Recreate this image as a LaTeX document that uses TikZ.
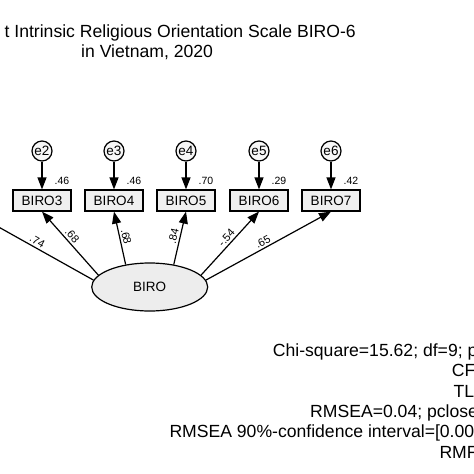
\documentclass[tikz,border=0pt]{standalone}
\usepackage{fontspec}
\setmainfont{Liberation Sans}
\usetikzlibrary{arrows.meta,calc,shapes.geometric}
\begin{document}
\begin{tikzpicture}[x=1pt,y=-1pt,
  ind/.style={draw=black,line width=1.2pt,fill=gray!12,minimum width=58pt,minimum height=21pt,inner sep=0pt,font=\fontsize{13.5}{13.5}\selectfont},
  err/.style={draw=black,line width=1.2pt,fill=gray!6,circle,minimum size=20pt,inner sep=0pt,font=\fontsize{13.5}{13.5}\selectfont},
  lat/.style={draw=black,line width=1.2pt,fill=gray!14,ellipse,minimum width=116pt,minimum height=48pt,inner sep=0pt,font=\fontsize{13.5}{13.5}\selectfont},
  conn/.style={line width=1.2pt,-{Triangle[length=12pt,width=9pt]}},
  wlab/.style={font=\fontsize{11}{11}\selectfont,sloped,above,inner sep=2pt},
  rlab/.style={font=\fontsize{10.5}{10.5}\selectfont,inner sep=0pt},
  big/.style={font=\fontsize{17.6}{20}\selectfont,inner sep=0pt}]
\useasboundingbox (0,0) rectangle (474,474);
\clip (0,0) rectangle (474,474);
% title
\node[big,anchor=base east] (t1) at (356,37) {t Intrinsic Religious Orientation Scale BIRO-6};
\node[big,anchor=base west] (t2) at (81,57) {in Vietnam, 2020};
% latent
\node[lat] (biro) at (149.7,287) {BIRO};
% indicators and errors
\foreach \n/\x/\r in {3/42/.46,4/114/.46,5/186/.70,6/259/.29,7/331/.42}{
  \node[ind] (b\n) at (\x,200.5) {BIRO\n};
  \pgfmathtruncatemacro{\en}{\n-1}
  \node[err] (e\en) at (\x,151) {e\en};
  \draw[conn] (e\en) -- (b\n);
  \node[rlab] (r\n) at ($(b\n.north)+(20,-9)$) {\r};
}
\coordinate (b2) at (-30,211);
\draw[line width=1.2pt] (biro.173) -- node[wlab,pos=0.48] (l2) {.74} (b2);
\draw[conn] (biro.167) -- node[wlab,pos=0.55] (l3) {.68} (b3.south);
\draw[conn] (biro.137) -- node[wlab,pos=0.5] (l4) {.68} (b4.south);
\draw[conn] (biro.43) -- node[wlab,pos=0.5] (l5) {.84} (b5.south);
\draw[conn] (biro.13) -- node[wlab,pos=0.52] (l6) {-.54} (b6.south);
\draw[conn] (biro.7) -- node[wlab,pos=0.48] (l7) {.65} (b7.south);
% fit statistics
\node[big,anchor=base west] (f1) at (272.7,356) {Chi-square=15.62; df=9; p};
\node[big,anchor=base west] (f2) at (451.7,376.5) {CF};
\node[big,anchor=base west] (f3) at (453.3,397) {TL};
\node[big,anchor=base west] (f4) at (310,417) {RMSEA=0.04; pclose};
\node[big,anchor=base west] (f5) at (169.3,437.5) {RMSEA 90\%-confidence interval=[0.00};
\node[big,anchor=base west] (f6) at (439.3,458) {RMF};
\end{tikzpicture}
\end{document}
